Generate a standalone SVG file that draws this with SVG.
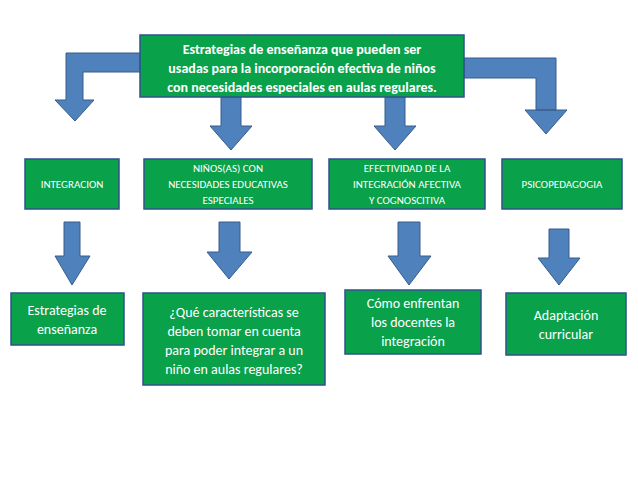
<svg xmlns="http://www.w3.org/2000/svg" width="638" height="478" viewBox="0 0 638 478">
<style>
.n{fill:#0aa14b;stroke:#2f528f;stroke-width:1.5}
.a{fill:#4f81bd;stroke:#385d8a;stroke-width:1}
text{fill:#fff;font-family:Calibri,"Liberation Sans",sans-serif;text-anchor:middle}
.s{font-size:11px}
.m{font-size:14px}
.b{font-size:14px;font-weight:bold}
</style>
<rect width="638" height="478" fill="#fff"/>
<g id="connectors">
<path class="a" d="M140,53 V72 H83 V100 H94 L75,121 L55,100 H66 V53 Z"/>
<path class="a" d="M464,58 V78 H536 V110 H567 L546,134 L525,110 H556 V58 Z" transform="translate(0,0)"/>
<path class="a" d="M221,97 H241 V126 H252 L231,150 L210,126 H221 Z"/>
<path class="a" d="M385,97 H405 V126 H416 L395,150 L374,126 H385 Z"/>
<path class="a" d="M64,222 H80 V256 H90 L72,285 L55,256 H64 Z"/>
<path class="a" d="M219,222 H240 V252 H252 L229,279 L207,252 H219 Z"/>
<path class="a" d="M398,222 H420 V256 H431 L409,285 L388,256 H398 Z"/>
<path class="a" d="M549,229 H569 V258 H580 L559,285 L538,258 H549 Z"/>
</g>
<g id="top"><rect class="n" x="140" y="35" width="324" height="62"/>
<text class="b" x="302" y="54">Estrategias de enseñanza que pueden ser</text>
<text class="b" x="302" y="73">usadas para la incorporación efectiva de niños</text>
<text class="b" x="302" y="92">con necesidades especiales en aulas regulares.</text></g>
<g id="n1"><rect class="n" x="25" y="159" width="94" height="50"/><text class="s" x="72" y="188">INTEGRACION</text></g>
<g id="n2"><rect class="n" x="144" y="159" width="168" height="50"/><text class="s" x="228" y="172">NIÑOS(AS) CON</text><text class="s" x="228" y="188">NECESIDADES EDUCATIVAS</text><text class="s" x="228" y="204">ESPECIALES</text></g>
<g id="n3"><rect class="n" x="329" y="159" width="156" height="50"/><text class="s" x="407" y="172">EFECTIVIDAD DE LA</text><text class="s" x="407" y="188">INTEGRACIÓN AFECTIVA</text><text class="s" x="407" y="204">Y COGNOSCITIVA</text></g>
<g id="n4"><rect class="n" x="502" y="159" width="120" height="50"/><text class="s" x="562" y="188">PSICOPEDAGOGIA</text></g>
<g id="r1"><rect class="n" x="11" y="293" width="113" height="52"/><text class="m" x="67" y="315">Estrategias de</text><text class="m" x="67" y="334">enseñanza</text></g>
<g id="r2"><rect class="n" x="143" y="293" width="182" height="92"/><text class="m" x="234" y="317">¿Qué características se</text><text class="m" x="234" y="336">deben tomar en cuenta</text><text class="m" x="234" y="355">para poder integrar a un</text><text class="m" x="234" y="374">niño en aulas regulares?</text></g>
<g id="r3"><rect class="n" x="345" y="290" width="136" height="64"/><text class="m" x="413" y="308">Cómo enfrentan</text><text class="m" x="413" y="327">los docentes la</text><text class="m" x="413" y="346">integración</text></g>
<g id="r4"><rect class="n" x="506" y="293" width="120" height="62"/><text class="m" x="566" y="320">Adaptación</text><text class="m" x="566" y="339">curricular</text></g>
</svg>
